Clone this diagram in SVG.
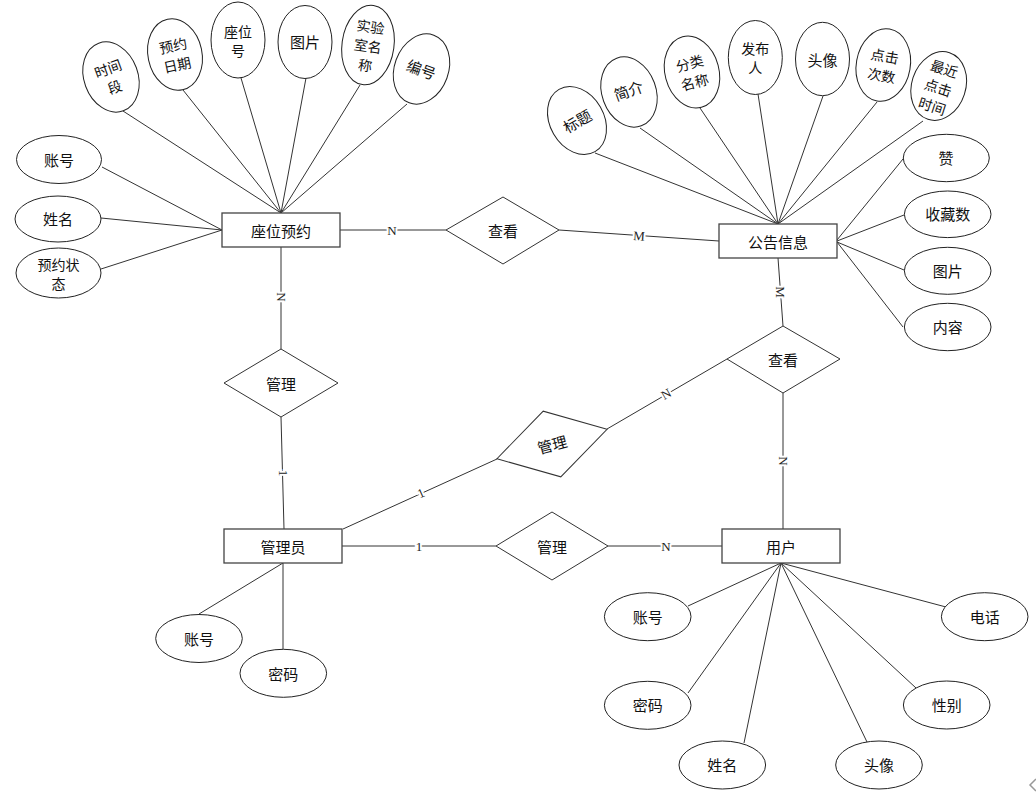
<svg xmlns="http://www.w3.org/2000/svg" width="1036" height="802" viewBox="0 0 1036 802">
<style>
.ent{fill:#fff;stroke:#444;stroke-width:1.3}
.rel{fill:#fff;stroke:#333;stroke-width:1}
.att{fill:#fff;stroke:#222;stroke-width:1}
.ln{stroke:#333;stroke-width:1;fill:none}
.t{font-family:"Noto Sans CJK SC","Noto Sans",sans-serif;font-size:15px;fill:#111;text-anchor:middle;dominant-baseline:central}
.s{font-size:14px}
.c{font-family:"Liberation Serif",serif;font-size:13px;fill:#222;text-anchor:middle;dominant-baseline:central;stroke:#fff;stroke-width:4;paint-order:stroke}
</style>
<rect width="1036" height="802" fill="#fff"/>
<g id="connectors">
<line class="ln" x1="123" y1="111" x2="281" y2="213"/>
<line class="ln" x1="183" y1="90" x2="281" y2="213"/>
<line class="ln" x1="241" y1="78" x2="281" y2="213"/>
<line class="ln" x1="306" y1="78" x2="281" y2="213"/>
<line class="ln" x1="360" y1="85" x2="281" y2="213"/>
<line class="ln" x1="407" y1="104" x2="281" y2="213"/>
<line class="ln" x1="102" y1="167" x2="222" y2="230"/>
<line class="ln" x1="101" y1="218" x2="222" y2="230"/>
<line class="ln" x1="101" y1="269" x2="222" y2="230"/>
<line class="ln" x1="595" y1="153" x2="778" y2="224"/>
<line class="ln" x1="640" y1="128" x2="778" y2="224"/>
<line class="ln" x1="700" y1="108" x2="778" y2="224"/>
<line class="ln" x1="758" y1="94" x2="778" y2="224"/>
<line class="ln" x1="823" y1="96" x2="778" y2="224"/>
<line class="ln" x1="877" y1="102" x2="778" y2="224"/>
<line class="ln" x1="923" y1="121" x2="778" y2="224"/>
<line class="ln" x1="903" y1="159" x2="837" y2="240"/>
<line class="ln" x1="904" y1="215" x2="837" y2="241"/>
<line class="ln" x1="904" y1="270" x2="837" y2="242"/>
<line class="ln" x1="903" y1="327" x2="837" y2="242"/>
<line class="ln" x1="199" y1="614" x2="283" y2="563"/>
<line class="ln" x1="283" y1="649" x2="283" y2="563"/>
<line class="ln" x1="688" y1="606" x2="781" y2="563"/>
<line class="ln" x1="688" y1="693" x2="781" y2="563"/>
<line class="ln" x1="744" y1="743" x2="781" y2="563"/>
<line class="ln" x1="867" y1="742" x2="781" y2="563"/>
<line class="ln" x1="916" y1="688" x2="781" y2="563"/>
<line class="ln" x1="946" y1="607" x2="781" y2="563"/>
<line class="ln" x1="340" y1="230" x2="446" y2="230"/>
<text class="c" x="392" y="230">N</text>
<line class="ln" x1="559" y1="230" x2="719" y2="241"/>
<text class="c" x="639" y="236" transform="rotate(4 639 236)">M</text>
<line class="ln" x1="281" y1="247" x2="281" y2="349"/>
<text class="c" x="281" y="297" transform="rotate(90 281 297)">N</text>
<line class="ln" x1="281" y1="417" x2="284" y2="529"/>
<text class="c" x="283" y="473" transform="rotate(90 283 473)">1</text>
<line class="ln" x1="778" y1="258" x2="783" y2="326"/>
<text class="c" x="780" y="292" transform="rotate(90 780 292)">M</text>
<line class="ln" x1="783" y1="393" x2="783" y2="529"/>
<text class="c" x="783" y="461" transform="rotate(90 783 461)">N</text>
<line class="ln" x1="727" y1="359" x2="607" y2="429"/>
<text class="c" x="666" y="394" transform="rotate(-30 666 394)">N</text>
<line class="ln" x1="497" y1="459" x2="343" y2="529"/>
<text class="c" x="421" y="493" transform="rotate(-24 421 493)">1</text>
<line class="ln" x1="342" y1="546" x2="496" y2="546"/>
<text class="c" x="419" y="546">1</text>
<line class="ln" x1="608" y1="546" x2="722" y2="546"/>
<text class="c" x="666" y="546">N</text>
</g>
<g id="e-seat"><rect class="ent" x="222" y="213" width="118" height="34"/><text class="t" x="281" y="230">座位预约</text></g>
<g id="e-notice"><rect class="ent" x="719" y="224" width="118" height="34"/><text class="t" x="778" y="241">公告信息</text></g>
<g id="e-admin"><rect class="ent" x="224" y="529" width="118" height="34"/><text class="t" x="283" y="546">管理员</text></g>
<g id="e-user"><rect class="ent" x="722" y="529" width="118" height="34"/><text class="t" x="781" y="546">用户</text></g>
<g id="r-view1"><polygon class="rel" points="446,230 503,197 559,230 503,264"/><text class="t" x="503" y="230">查看</text></g>
<g id="r-manage1"><polygon class="rel" points="224,383 281,349 338,383 281,417"/><text class="t" x="281" y="383">管理</text></g>
<g id="r-view2"><polygon class="rel" points="727,359 783,326 840,359 783,393"/><text class="t" x="783" y="359">查看</text></g>
<g id="r-manage2" transform="translate(552 444) rotate(-15)"><polygon class="rel" points="-57,0 0,-34 57,0 0,34"/><text class="t" x="0" y="0">管理</text></g>
<g id="r-manage3"><polygon class="rel" points="496,546 552,512 608,546 552,580"/><text class="t" x="552" y="546">管理</text></g>
<g id="a-shijianduan" transform="translate(111 77) rotate(-20)"><ellipse class="att" rx="27" ry="36"/><text class="t s" x="0" y="-9.5">时间</text><text class="t s" x="0" y="10">段</text></g>
<g id="a-yuyueriqi" transform="translate(175 54.5) rotate(-12)"><ellipse class="att" rx="27" ry="36"/><text class="t s" x="0" y="-9.5">预约</text><text class="t s" x="0" y="10">日期</text></g>
<g id="a-zuoweihao" transform="translate(238 40)"><ellipse class="att" rx="27" ry="38"/><text class="t s" x="0" y="-9.5">座位</text><text class="t s" x="0" y="10">号</text></g>
<g id="a-tupian1" transform="translate(305 42)"><ellipse class="att" rx="27" ry="36.5"/><text class="t" x="0" y="-1">图片</text></g>
<g id="a-shiyanshi" transform="translate(368 45) rotate(8)"><ellipse class="att" rx="26" ry="40"/><text class="t s" x="0" y="-19">实验</text><text class="t s" x="0" y="0.5">室名</text><text class="t s" x="0" y="20">称</text></g>
<g id="a-bianhao" transform="translate(421.5 69) rotate(20)"><ellipse class="att" rx="27" ry="36"/><text class="t" x="0" y="0">编号</text></g>
<g id="a-zhanghao1"><ellipse class="att" cx="59" cy="159.5" rx="42.5" ry="24"/><text class="t" x="59" y="159">账号</text></g>
<g id="a-xingming1"><ellipse class="att" cx="58" cy="219" rx="43" ry="23"/><text class="t" x="58" y="218">姓名</text></g>
<g id="a-zhuangtai"><ellipse class="att" cx="58.5" cy="273" rx="42.5" ry="25"/><text class="t s" x="58.5" y="263.5">预约状</text><text class="t s" x="58.5" y="283">态</text></g>
<g id="a-biaoti" transform="translate(577 120.5) rotate(-30)"><ellipse class="att" rx="27" ry="36"/><text class="t" x="0" y="0">标题</text></g>
<g id="a-jianjie" transform="translate(629 92) rotate(-20)"><ellipse class="att" rx="27" ry="36"/><text class="t" x="0" y="-2">简介</text></g>
<g id="a-fenlei" transform="translate(692 72) rotate(-15)"><ellipse class="att" rx="27" ry="36.5"/><text class="t s" x="0" y="-9.5">分类</text><text class="t s" x="0" y="10">名称</text></g>
<g id="a-fabuen" transform="translate(755.3 57.5)"><ellipse class="att" rx="27" ry="37"/><text class="t s" x="0" y="-10">发布</text><text class="t s" x="0" y="9.5">人</text></g>
<g id="a-touxiang1" transform="translate(822.5 59)"><ellipse class="att" rx="27" ry="36.7"/><text class="t" x="0" y="0">头像</text></g>
<g id="a-dianji" transform="translate(883.3 65) rotate(10)"><ellipse class="att" rx="27" ry="36.5"/><text class="t s" x="0" y="-9.5">点击</text><text class="t s" x="0" y="10">次数</text></g>
<g id="a-zuijin" transform="translate(938.7 86) rotate(18)"><ellipse class="att" rx="27" ry="35"/><text class="t s" x="0" y="-18.5">最近</text><text class="t s" x="0" y="1">点击</text><text class="t s" x="0" y="20.5">时间</text></g>
<g id="a-zan"><ellipse class="att" cx="946.3" cy="158" rx="43" ry="23.7"/><text class="t" x="946" y="157">赞</text></g>
<g id="a-shoucang"><ellipse class="att" cx="947.7" cy="214.3" rx="43.3" ry="23.3"/><text class="t" x="947.7" y="213">收藏数</text></g>
<g id="a-tupian2"><ellipse class="att" cx="947.7" cy="270.8" rx="43.3" ry="23.5"/><text class="t" x="947.7" y="270">图片</text></g>
<g id="a-neirong"><ellipse class="att" cx="947.7" cy="327" rx="43.3" ry="23.7"/><text class="t" x="947.7" y="326">内容</text></g>
<g id="a-zhanghao2"><ellipse class="att" cx="199" cy="638.5" rx="43.3" ry="24"/><text class="t" x="199" y="638">账号</text></g>
<g id="a-mima2"><ellipse class="att" cx="283.3" cy="673.3" rx="43.3" ry="24"/><text class="t" x="283.3" y="673">密码</text></g>
<g id="a-zhanghao3"><ellipse class="att" cx="647.7" cy="616.7" rx="43.3" ry="24"/><text class="t" x="647.7" y="616">账号</text></g>
<g id="a-mima3"><ellipse class="att" cx="647.7" cy="705.3" rx="43.3" ry="24"/><text class="t" x="647.7" y="704">密码</text></g>
<g id="a-xingming3"><ellipse class="att" cx="722.3" cy="765" rx="43.3" ry="24"/><text class="t" x="722.3" y="764">姓名</text></g>
<g id="a-touxiang3"><ellipse class="att" cx="879" cy="765" rx="43.3" ry="24"/><text class="t" x="879" y="764">头像</text></g>
<g id="a-xingbie"><ellipse class="att" cx="946.7" cy="705" rx="43.3" ry="24"/><text class="t" x="946.7" y="704">性别</text></g>
<g id="a-dianhua"><ellipse class="att" cx="984.7" cy="616.7" rx="43.3" ry="24"/><text class="t" x="984.7" y="616">电话</text></g>
<polyline points="1036,779 1030,785 1036,791" fill="none" stroke="#999" stroke-width="1.5"/>
</svg>
